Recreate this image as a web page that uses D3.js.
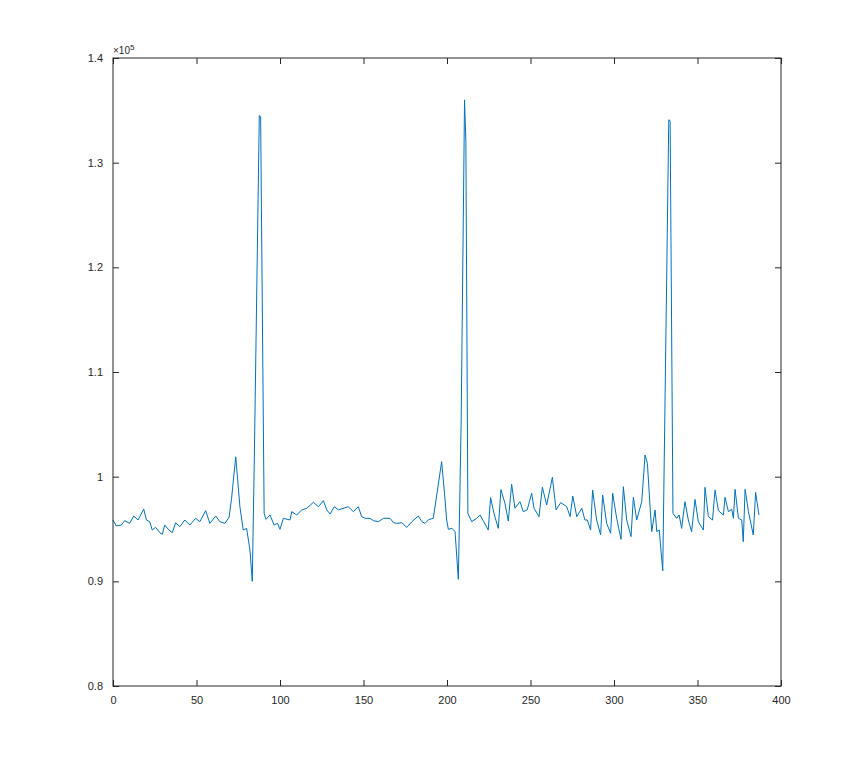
<!DOCTYPE html>
<html><head><meta charset="utf-8">
<script src="https://cdn.jsdelivr.net/npm/d3@7"></script>
<style>body{margin:0;background:#fff}svg{font-family:"Liberation Sans",Arial,sans-serif}</style>
</head><body>
<svg id="chart" width="864" height="770"></svg>
<script>
// signal samples (x index, value in units of 1e3)
var xs = [0,2,5,7,10,12.4,15,18.4,20,22,23.5,25.5,28,29.5,31,33.5,35.5,37.5,40,43,46,49.5,52,55.5,58,61.5,64,67,69.5,71,73.5,76,78,80,82,83.4,84.6,87.6,88.4,90.5,91.6,94,96.5,98.5,100,102,106,107,110,113,116,120,123,126,128,130,132.5,135,
  140.9,143.9,146.9,148.9,151,153.9,156,158.9,162,165.9,168,169.9,173,175.9,179,182.8,185,186.8,189,191.8,194,196.8,198.5,199.8,200.8,203,204.8,206.8,208.5,210.5,211.3,212.5,214.8,217.7,219.8,222,224.7,226.1,228.1,230.7,232.3,234.7,236.7,238.7,240.7,243.7,245.7,248,250.7,252.1,255.1,257.1,259.7,263.1,265.3,268.1,271.7,273.7,
  275.3,277.7,280.7,282.6,284,286,287.2,289.6,292,293.2,295.6,298,299.2,301.6,304.2,305.6,307.6,310.2,311.6,313.6,316.6,318.6,320,321.6,322.6,324.6,325.6,327.1,329.2,332.8,333.6,335.3,337.5,339,340.5,342.5,344.5,346.5,348.5,350.5,353.5,354.5,356.5,359,360.5,362.5,365.5,366.5,368.5,370.5,371.5,372.5,374.5,376.5,377.4,378.5,380.5,383.4,384.8,386.8];
var ys = [95.86,95.29,95.38,95.79,95.54,96.24,95.86,96.91,95.86,95.7,94.9,95.16,94.65,94.49,95.38,94.9,94.65,95.6,95.22,95.86,95.38,96.02,95.7,96.75,95.54,96.24,95.7,95.54,96.11,97.93,101.9,97.13,94.9,95.06,93.0,90.0,101.5,134.5,134.4,96.5,95.92,96.34,95.38,95.54,94.97,96.02,95.86,96.66,96.34,96.82,96.98,97.55,97.13,97.71,96.82,96.43,97.13,96.82,
  97.13,96.66,97.13,96.18,96.02,96.02,95.79,95.7,96.02,96.02,95.6,95.54,95.6,95.16,95.7,96.24,95.7,95.54,95.9,96.02,98.41,101.43,98.41,95.86,94.97,95.06,94.75,90.2,105.5,136.0,132.0,96.5,95.7,96.02,96.34,95.7,94.9,98.0,96.5,95.06,98.76,97.45,95.76,99.27,96.98,97.61,96.66,96.82,98.41,96.98,96.18,99.0,97.29,99.94,96.82,97.52,97.13,96.18,
  98.15,96.18,96.98,95.86,95.86,94.9,98.73,95.86,94.43,98.25,95.54,94.59,98.41,96.02,94.01,99.04,95.86,94.27,98.03,95.86,97.61,102.07,101.27,97.13,94.75,96.82,94.75,94.9,91.0,134.1,134.0,96.5,96.02,96.34,95.06,97.61,95.86,94.75,97.83,95.7,94.9,98.98,96.18,95.86,98.73,96.75,96.34,98.03,96.66,96.88,96.02,98.79,96.02,95.86,93.79,98.79,96.66,94.43,98.5,96.34];
var xTicks = [0,50,100,150,200,250,300,350,400];
var yTicks = [0.8,0.9,1,1.1,1.2,1.3,1.4];

(function(){
var svg = d3.select('#chart');
var left = 113, right = 781, plotTop = 58, bottom = 686;
var x = d3.scaleLinear().domain([0,400]).range([left,right]);
var y = d3.scaleLinear().domain([0.8,1.4]).range([bottom,plotTop]);

var data = xs.map(function(d,i){ return [d, ys[i]/100]; });

svg.append('path').datum(data)
  .attr('fill','none').attr('stroke','#0072BD').attr('stroke-width',1)
  .attr('d', d3.line().x(function(d){ return x(d[0]); }).y(function(d){ return y(d[1]); }));

var ax = function(g){ g.select('.domain').remove(); g.selectAll('line').attr('stroke','#262626'); g.selectAll('text').attr('fill','#262626').style('font-size','11px'); };
svg.append('g').attr('transform','translate(0,'+bottom+')')
  .call(d3.axisBottom(x).tickValues(xTicks).tickSize(-6).tickPadding(10).tickFormat(d3.format('d'))).call(ax);
svg.append('g').attr('transform','translate(0,'+plotTop+')')
  .call(d3.axisTop(x).tickValues(xTicks).tickSize(-6).tickFormat('')).call(ax);
svg.append('g').attr('transform','translate('+left+',0)')
  .call(d3.axisLeft(y).tickValues(yTicks).tickSize(-6).tickPadding(10).tickFormat(function(d){ return String(+d.toFixed(1)); })).call(ax);
svg.append('g').attr('transform','translate('+right+',0)')
  .call(d3.axisRight(y).tickValues(yTicks).tickSize(-6).tickFormat('')).call(ax);

svg.append('rect').attr('x',left).attr('y',plotTop).attr('width',right-left).attr('height',bottom-plotTop)
  .attr('fill','none').attr('stroke','#262626').attr('stroke-width',1);

var t = svg.append('text').attr('x',left).attr('y',plotTop-4).attr('fill','#262626').style('font-size','10px');
t.append('tspan').text('\u00d710');
t.append('tspan').attr('dy',-4).style('font-size','8px').text('5');
})();
</script>
</body></html>
